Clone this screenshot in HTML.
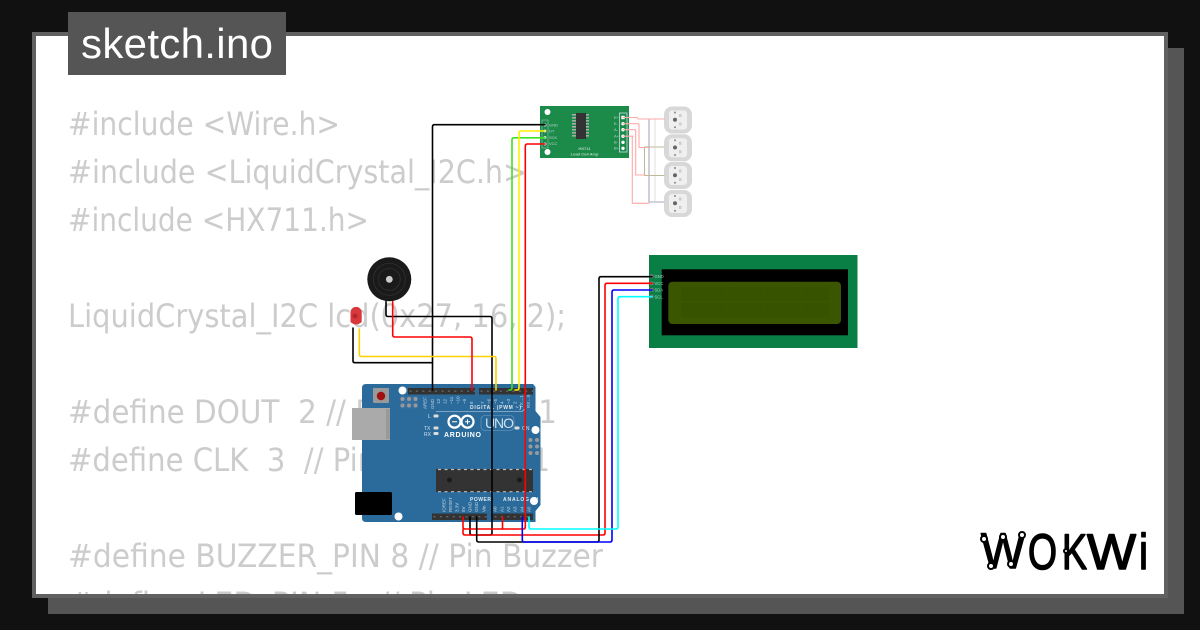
<!DOCTYPE html>
<html><head><meta charset="utf-8"><title>sketch.ino</title>
<style>html,body{margin:0;padding:0;background:#111;width:1200px;height:630px;overflow:hidden}svg{display:block}
.c{font-family:"DejaVu Sans","Liberation Sans",sans-serif;font-size:32px;fill:#ccc;white-space:pre}
.s{font-family:"Liberation Sans",sans-serif;fill:#fff}
.w{fill:none;stroke-width:1.6;stroke-linecap:round;stroke-linejoin:round}
.l{font-family:"Liberation Sans",sans-serif;font-size:50px;fill:#000;stroke:#000;stroke-width:1.5;stroke-linejoin:round}
</style></head><body>
<svg width="1200" height="630" viewBox="0 0 1200 630" xmlns="http://www.w3.org/2000/svg">
<defs><clipPath id="cp"><rect x="36" y="36" width="1128" height="558"/></clipPath></defs>
<rect width="1200" height="630" fill="#111"/>
<rect x="48" y="48" width="1136" height="566" fill="#555"/>
<rect x="32" y="32" width="1136" height="566" fill="#616161"/>
<rect x="36" y="36" width="1128" height="558" fill="#fff"/>
<g clip-path="url(#cp)">
<text class="c" x="68" y="135" textLength="272" lengthAdjust="spacingAndGlyphs">#include &lt;Wire.h&gt;</text>
<text class="c" x="68" y="183" textLength="459" lengthAdjust="spacingAndGlyphs">#include &lt;LiquidCrystal_I2C.h&gt;</text>
<text class="c" x="68" y="231" textLength="301" lengthAdjust="spacingAndGlyphs">#include &lt;HX711.h&gt;</text>
<text class="c" x="68" y="327" textLength="498" lengthAdjust="spacingAndGlyphs">LiquidCrystal_I2C lcd(0x27, 16, 2);</text>
<text class="c" x="68" y="423" textLength="489" lengthAdjust="spacingAndGlyphs">#define DOUT  2 // Pin DT HX711</text>
<text class="c" x="68" y="471" textLength="482" lengthAdjust="spacingAndGlyphs">#define CLK  3  // Pin SCK HX711</text>
<text class="c" x="68" y="567" textLength="535" lengthAdjust="spacingAndGlyphs">#define BUZZER_PIN 8 // Pin Buzzer</text>
<text class="c" x="68" y="615" textLength="455" lengthAdjust="spacingAndGlyphs">#define LED_PIN 5   // Pin LED</text>
</g>
<rect x="68" y="12" width="218" height="63" fill="#555"/>
<text class="s" x="81" y="58" font-size="42" textLength="192">sketch.ino</text>

<!-- HX711 -->
<rect x="540" y="106" width="89" height="52" fill="#1c8a48"/>
<circle cx="547.5" cy="112" r="3" fill="#fff"/><circle cx="547.5" cy="152" r="3" fill="#fff"/>
<g fill="#aaa"><rect x="572" y="114" width="17" height="1.6"/><rect x="572" y="117" width="17" height="1.6"/><rect x="572" y="120" width="17" height="1.6"/><rect x="572" y="123" width="17" height="1.6"/><rect x="572" y="126" width="17" height="1.6"/><rect x="572" y="129" width="17" height="1.6"/><rect x="572" y="132" width="17" height="1.6"/><rect x="572" y="135" width="17" height="1.6"/></g>
<rect x="576" y="113" width="10" height="26" fill="#333"/>
<rect x="542" y="120" width="6" height="28" fill="none" stroke="#bcd" stroke-width=".7" opacity=".7"/>
<g fill="#cde"><circle cx="545" cy="125" r="1.5"/><circle cx="545" cy="131" r="1.5"/><circle cx="545" cy="137.5" r="1.5"/><circle cx="545" cy="144" r="1.5"/></g>
<g class="s" font-size="4" opacity=".65"><text x="549" y="126.5">GND</text><text x="549" y="132.5">DT</text><text x="549" y="139">SCK</text><text x="549" y="145">VCC</text>
<text x="614" y="119">E+</text><text x="614" y="125">E-</text><text x="614" y="131">A-</text><text x="614" y="137.5">A+</text><text x="614" y="143.5">B-</text><text x="614" y="149.5">B+</text>
<text x="584.5" y="150" text-anchor="middle" font-weight="bold">HX711</text><text x="584.5" y="155.5" text-anchor="middle" font-style="italic" font-weight="bold">Load Cell Amp</text></g>
<rect x="619.5" y="113" width="7.5" height="39" fill="none" stroke="#cde" stroke-width=".8"/>
<g fill="#fff"><rect x="621.3" y="115.800" width="3.400" height="3.400"/><circle cx="623" cy="123.7" r="1.7"/><circle cx="623" cy="129.7" r="1.7"/><circle cx="623" cy="136.2" r="1.7"/><circle cx="623" cy="142.3" r="1.7"/><circle cx="623" cy="148.3" r="1.7"/></g>

<!-- Load cells -->
<g id="cells">
<rect x="664" y="106.5" width="28" height="27" rx="8" fill="#d8d8d8"/><rect x="669" y="110.5" width="18" height="19" rx="3" fill="#efefef"/><circle cx="675" cy="119.7" r="2" fill="#666"/><circle cx="675" cy="112.5" r="1" fill="#888"/><circle cx="675" cy="127.3" r="1" fill="#888"/><rect x="679" y="114" width="2.5" height="3" fill="#ccc"/><rect x="679" y="122.5" width="2.5" height="3" fill="#ccc"/>
<rect x="664" y="134.3" width="28" height="27" rx="8" fill="#d8d8d8"/><rect x="669" y="138.3" width="18" height="19" rx="3" fill="#efefef"/><circle cx="675" cy="147.5" r="2" fill="#666"/><circle cx="675" cy="140.3" r="1" fill="#888"/><circle cx="675" cy="155" r="1" fill="#888"/><rect x="679" y="141.8" width="2.5" height="3" fill="#ccc"/><rect x="679" y="150.3" width="2.5" height="3" fill="#ccc"/>
<rect x="664" y="162" width="28" height="27" rx="8" fill="#d8d8d8"/><rect x="669" y="166" width="18" height="19" rx="3" fill="#efefef"/><circle cx="675" cy="175.3" r="2" fill="#666"/><circle cx="675" cy="168" r="1" fill="#888"/><circle cx="675" cy="182.8" r="1" fill="#888"/><rect x="679" y="169.5" width="2.5" height="3" fill="#ccc"/><rect x="679" y="178" width="2.5" height="3" fill="#ccc"/>
<rect x="664" y="190" width="28" height="27" rx="8" fill="#d8d8d8"/><rect x="669" y="194" width="18" height="19" rx="3" fill="#efefef"/><circle cx="675" cy="203.3" r="2" fill="#666"/><circle cx="675" cy="196" r="1" fill="#888"/><circle cx="675" cy="210.8" r="1" fill="#888"/><rect x="679" y="197.5" width="2.5" height="3" fill="#ccc"/><rect x="679" y="206" width="2.5" height="3" fill="#ccc"/>
</g>
<g class="w" style="stroke-width:1.1">
<path d="M655 119V202" stroke="#e4e4e4"/><path d="M649 119H664M649 119V202H664" stroke="#aaa6bb"/>
<path d="M644.5 147H664M644.5 147V175.5H664" stroke="#bdba9a"/>
<path d="M623 117.5H636.5Q637.5 117.5 638 119H664" stroke="#ffa8a8"/>
<path d="M623 123.7H638Q639 123.7 639 125V147.5H648" stroke="#ffa8a8"/>
<path d="M623 129.7H635Q635.7 129.7 635.7 131V175H645" stroke="#ffa8a8"/>
<path d="M623 136.2H633Q632.3 136.2 632.3 138V203.3H649" stroke="#ffa8a8"/>
</g>

<!-- LCD -->
<rect x="649" y="255" width="208.5" height="93" fill="#0a7f45"/>
<rect x="661.7" y="269.3" width="186.3" height="66" fill="#000"/>
<rect x="668.3" y="281.7" width="172.7" height="42.3" rx="4" fill="#3a5600"/>
<g fill="#385300"><rect x="681" y="287" width="148" height="14"/><rect x="681" y="303" width="148" height="14"/></g>
<g stroke="#3a5600" stroke-width=".8"><path d="M690 287V317M699.300 287V317M708.500 287V317M717.800 287V317M727 287V317M736.300 287V317M745.500 287V317M754.800 287V317M764 287V317M773.300 287V317M782.500 287V317M791.800 287V317M801 287V317M810.300 287V317M819.500 287V317"/></g>
<g fill="#777"><rect x="650" y="274.500" width="3.500" height="3.500"/><rect x="650" y="281.500" width="3.500" height="3.500"/><rect x="650" y="288" width="3.500" height="3.500"/><rect x="650" y="294.800" width="3.500" height="3.500"/></g>
<g class="s" font-size="4.200" opacity=".65"><text x="654.500" y="278">GND</text><text x="654.500" y="285">VCC</text><text x="654.500" y="291.500">SDA</text><text x="654.500" y="298.300">SCL</text></g>

<!-- Buzzer -->
<circle cx="389.300" cy="279.300" r="22" fill="#1a1a1a"/>
<g fill="none" stroke="#333" stroke-width=".7"><circle cx="389.300" cy="279.300" r="16"/><circle cx="389.300" cy="279.300" r="11"/></g>
<circle cx="389.300" cy="279.300" r="3.400" fill="#ccc"/>

<!-- LED -->
<path d="M350.500 322V312.500A5.600 5.600 0 0 1 361.700 312.500V322Q356 327 350.500 322Z" fill="#d8383c"/>
<circle cx="355" cy="316" r="2.500" fill="#b82428"/>

<!-- Arduino -->
<path d="M366 384H533L535.500 387V411L540.500 417V505L535.500 511V522H366Q362 522 362 518V388Q362 384 366 384Z" fill="#2b6b9b"/>
<rect x="352" y="408" width="38" height="32" fill="#aaa"/>
<rect x="386" y="409" width="4" height="30" fill="#999"/>
<rect x="355" y="492" width="37" height="23" rx="1.500" fill="#000"/>
<rect x="373" y="388" width="16" height="15" rx="1" fill="#999"/><circle cx="381" cy="396" r="4.200" fill="#a01010"/>
<g fill="#fff"><circle cx="402.500" cy="390.500" r="4"/><circle cx="535.500" cy="430" r="4"/><circle cx="398.500" cy="516.500" r="4"/><circle cx="534" cy="501" r="4"/></g>
<g fill="#333"><rect x="408" y="388" width="67" height="6.500"/><rect x="479" y="388" width="54" height="6.500"/><rect x="432" y="513.500" width="55" height="6.500"/><rect x="493" y="513.500" width="40" height="6.500"/></g>
<g stroke="#666" stroke-width="1.300" stroke-dasharray="2 4.400"><path d="M409.500 391.200H475M480.500 391.200H533M433.500 516.700H487M494.500 516.700H533"/></g>
<rect x="400" y="396" width="18" height="12.500" fill="#356f9e"/>
<g fill="#999"><circle cx="402.500" cy="399" r="2"/><circle cx="409" cy="399" r="2"/><circle cx="415.500" cy="399" r="2"/><circle cx="402.500" cy="405.500" r="2"/><circle cx="409" cy="405.500" r="2"/><circle cx="415.500" cy="405.500" r="2"/>
<circle cx="530.500" cy="440" r="2"/><circle cx="537" cy="440" r="2"/><circle cx="530.500" cy="446.500" r="2"/><circle cx="537" cy="446.500" r="2"/><circle cx="530.500" cy="453" r="2"/><circle cx="537" cy="453" r="2"/></g>
<rect x="436" y="469" width="97" height="23" fill="#333"/>
<g stroke="#bbb" stroke-width="1.200" stroke-dasharray="3 3.500"><path d="M438 469.500H533M438 491.700H533"/></g>
<circle cx="449.500" cy="480" r="2.500" fill="#1a1a1a"/><circle cx="519.500" cy="480" r="2.500" fill="#1a1a1a"/>
<g fill="#ddd"><rect x="433.500" y="414.500" width="5" height="3" rx="1"/><rect x="433.500" y="426.500" width="5" height="3" rx="1"/><rect x="433.500" y="432" width="5" height="3" rx="1"/><rect x="514.500" y="426.500" width="5" height="3" rx="1"/></g>
<g class="s" font-size="5" opacity=".8"><text x="428" y="418">L</text><text x="424" y="430">TX</text><text x="424" y="436">RX</text><text x="522" y="430">ON</text></g>
<g fill="none" stroke="#fff" stroke-width="2.200"><circle cx="454.500" cy="421.700" r="6"/><circle cx="467.500" cy="421.700" r="6"/></g>
<g stroke="#fff" stroke-width="1"><path d="M452 421.700H457M465 421.700H470M467.500 419.200V424.200"/></g>
<text class="s" x="444" y="437" font-size="7" font-weight="bold" textLength="37">ARDUINO</text>
<rect x="481" y="415.500" width="33" height="15" rx="4" fill="none" stroke="#5e8fb6" stroke-width=".8"/>
<text x="485" y="428" font-family="Liberation Sans,sans-serif" font-size="14" fill="#cfe0ec" textLength="29">UNO</text>
<path d="M436 411.500H522L526 408" fill="none" stroke="#cfe0ec" stroke-width=".6"/>
<text class="s" x="470" y="409" font-size="5" font-weight="bold" textLength="51" opacity=".85">DIGITAL (PWM ~)</text>
<text class="s" x="470" y="501" font-size="5" font-weight="bold" textLength="21" opacity=".85">POWER</text>
<text class="s" x="503" y="501" font-size="5" font-weight="bold" textLength="35" opacity=".85">ANALOG IN</text>
<g class="s" font-size="4.500" opacity=".7">
<text transform="translate(426.500 409) rotate(-90)">AREF</text><text transform="translate(434 409) rotate(-90)">GND</text><text transform="translate(440 404) rotate(-90)">13</text><text transform="translate(446.500 404) rotate(-90)">12</text><text transform="translate(453 404) rotate(-90)">~11</text><text transform="translate(459.500 404) rotate(-90)">~10</text><text transform="translate(466 404) rotate(-90)">~9</text><text transform="translate(473 404) rotate(-90)">8</text>
<text transform="translate(484 404) rotate(-90)">7</text><text transform="translate(490.500 404) rotate(-90)">~6</text><text transform="translate(497 404) rotate(-90)">~5</text><text transform="translate(503.500 404) rotate(-90)">4</text><text transform="translate(510 404) rotate(-90)">~3</text><text transform="translate(516.500 404) rotate(-90)">2</text><text transform="translate(523 408) rotate(-90)">TX→1</text><text transform="translate(530 408) rotate(-90)">RX←0</text>
<text transform="translate(445.500 512) rotate(-90)">IOREF</text><text transform="translate(452 512) rotate(-90)">RESET</text><text transform="translate(458.500 512) rotate(-90)">3.3V</text><text transform="translate(465 512) rotate(-90)">5V</text><text transform="translate(471.500 512) rotate(-90)">GND</text><text transform="translate(478 512) rotate(-90)">GND</text><text transform="translate(485.500 512) rotate(-90)">Vin</text>
<text transform="translate(496.500 512) rotate(-90)">A0</text><text transform="translate(503.500 512) rotate(-90)">A1</text><text transform="translate(510 512) rotate(-90)">A2</text><text transform="translate(516.500 512) rotate(-90)">A3</text><text transform="translate(523.500 512) rotate(-90)">A4</text><text transform="translate(530.500 512) rotate(-90)">A5</text>
</g>

<!-- Wires -->
<g class="w">
<path stroke="#000" d="M545 124.700H434.500Q432.500 124.700 432.500 126.700V390"/>
<path stroke="#000" d="M386 301.700V314Q386 316.500 388 316.500H490Q492 316.500 492 318.500V533Q492 535 490 535H472Q470 535 470 533V517"/>
<path stroke="#000" d="M353 328V361Q353 362.700 355 362.700H432.500"/>
<path stroke="#ffd000" d="M359.300 329V354Q359.300 356.500 361.500 356.500H494Q496 356.500 496 358.500V390"/>
<path stroke="#f00" d="M392.700 301.700V335Q392.700 337 395 337H470Q472 337 472 339V390"/>
<path stroke="#3fe020" d="M545 137.800H514Q512 137.800 512 139.800V388Q512 390 510 390H509"/>
<path stroke="#ffee00" d="M545 131H521Q519 131 519 133V388Q519 390 517 390H515"/>
<path stroke="#f00" d="M545 144H527.300Q525.300 144 525.300 146V527Q525.300 529 523.300 529H465Q463 529 463 527V517"/>
<path stroke="#f00" d="M502.500 517V529"/>
<path stroke="#f00" d="M463 529V533Q463 535 465 535H603Q605 535 605 533V285.300Q605 283.300 607 283.300H652"/>
<path stroke="#000" d="M652 276.700H601Q599 276.700 599 278.700V540Q599 542 597 542H479Q476.700 542 476.700 540V517"/>
<path stroke="#00f" d="M652 290H614Q612 290 612 292V540Q612 542 610 542H524.500Q522.300 542 522.300 540V517"/>
<path stroke="#0ff" d="M652 296.700H620Q618 296.700 618 298.700V527Q618 529 616 529H531Q529 529 529 527V517"/>
</g>

<!-- Wokwi logo -->
<text class="l" x="981" y="568" font-size="46" textLength="44" lengthAdjust="spacingAndGlyphs">W</text>
<text class="l" x="1028" y="569" textLength="29" lengthAdjust="spacingAndGlyphs">O</text>
<text class="l" x="1062" y="569" textLength="25" lengthAdjust="spacingAndGlyphs">K</text>
<text class="l" x="1087" y="569" textLength="49" lengthAdjust="spacingAndGlyphs">W</text>
<text class="l" x="1139" y="569" textLength="9" lengthAdjust="spacingAndGlyphs">i</text>
<g fill="#fff" stroke="#000" stroke-width="2"><circle cx="984" cy="539" r="3"/><circle cx="1003" cy="537" r="3"/><circle cx="1022" cy="535" r="3"/><circle cx="991" cy="566" r="3"/><circle cx="1011" cy="564" r="3"/><circle cx="1066" cy="551" r="2"/></g>
</svg>
</body></html>
